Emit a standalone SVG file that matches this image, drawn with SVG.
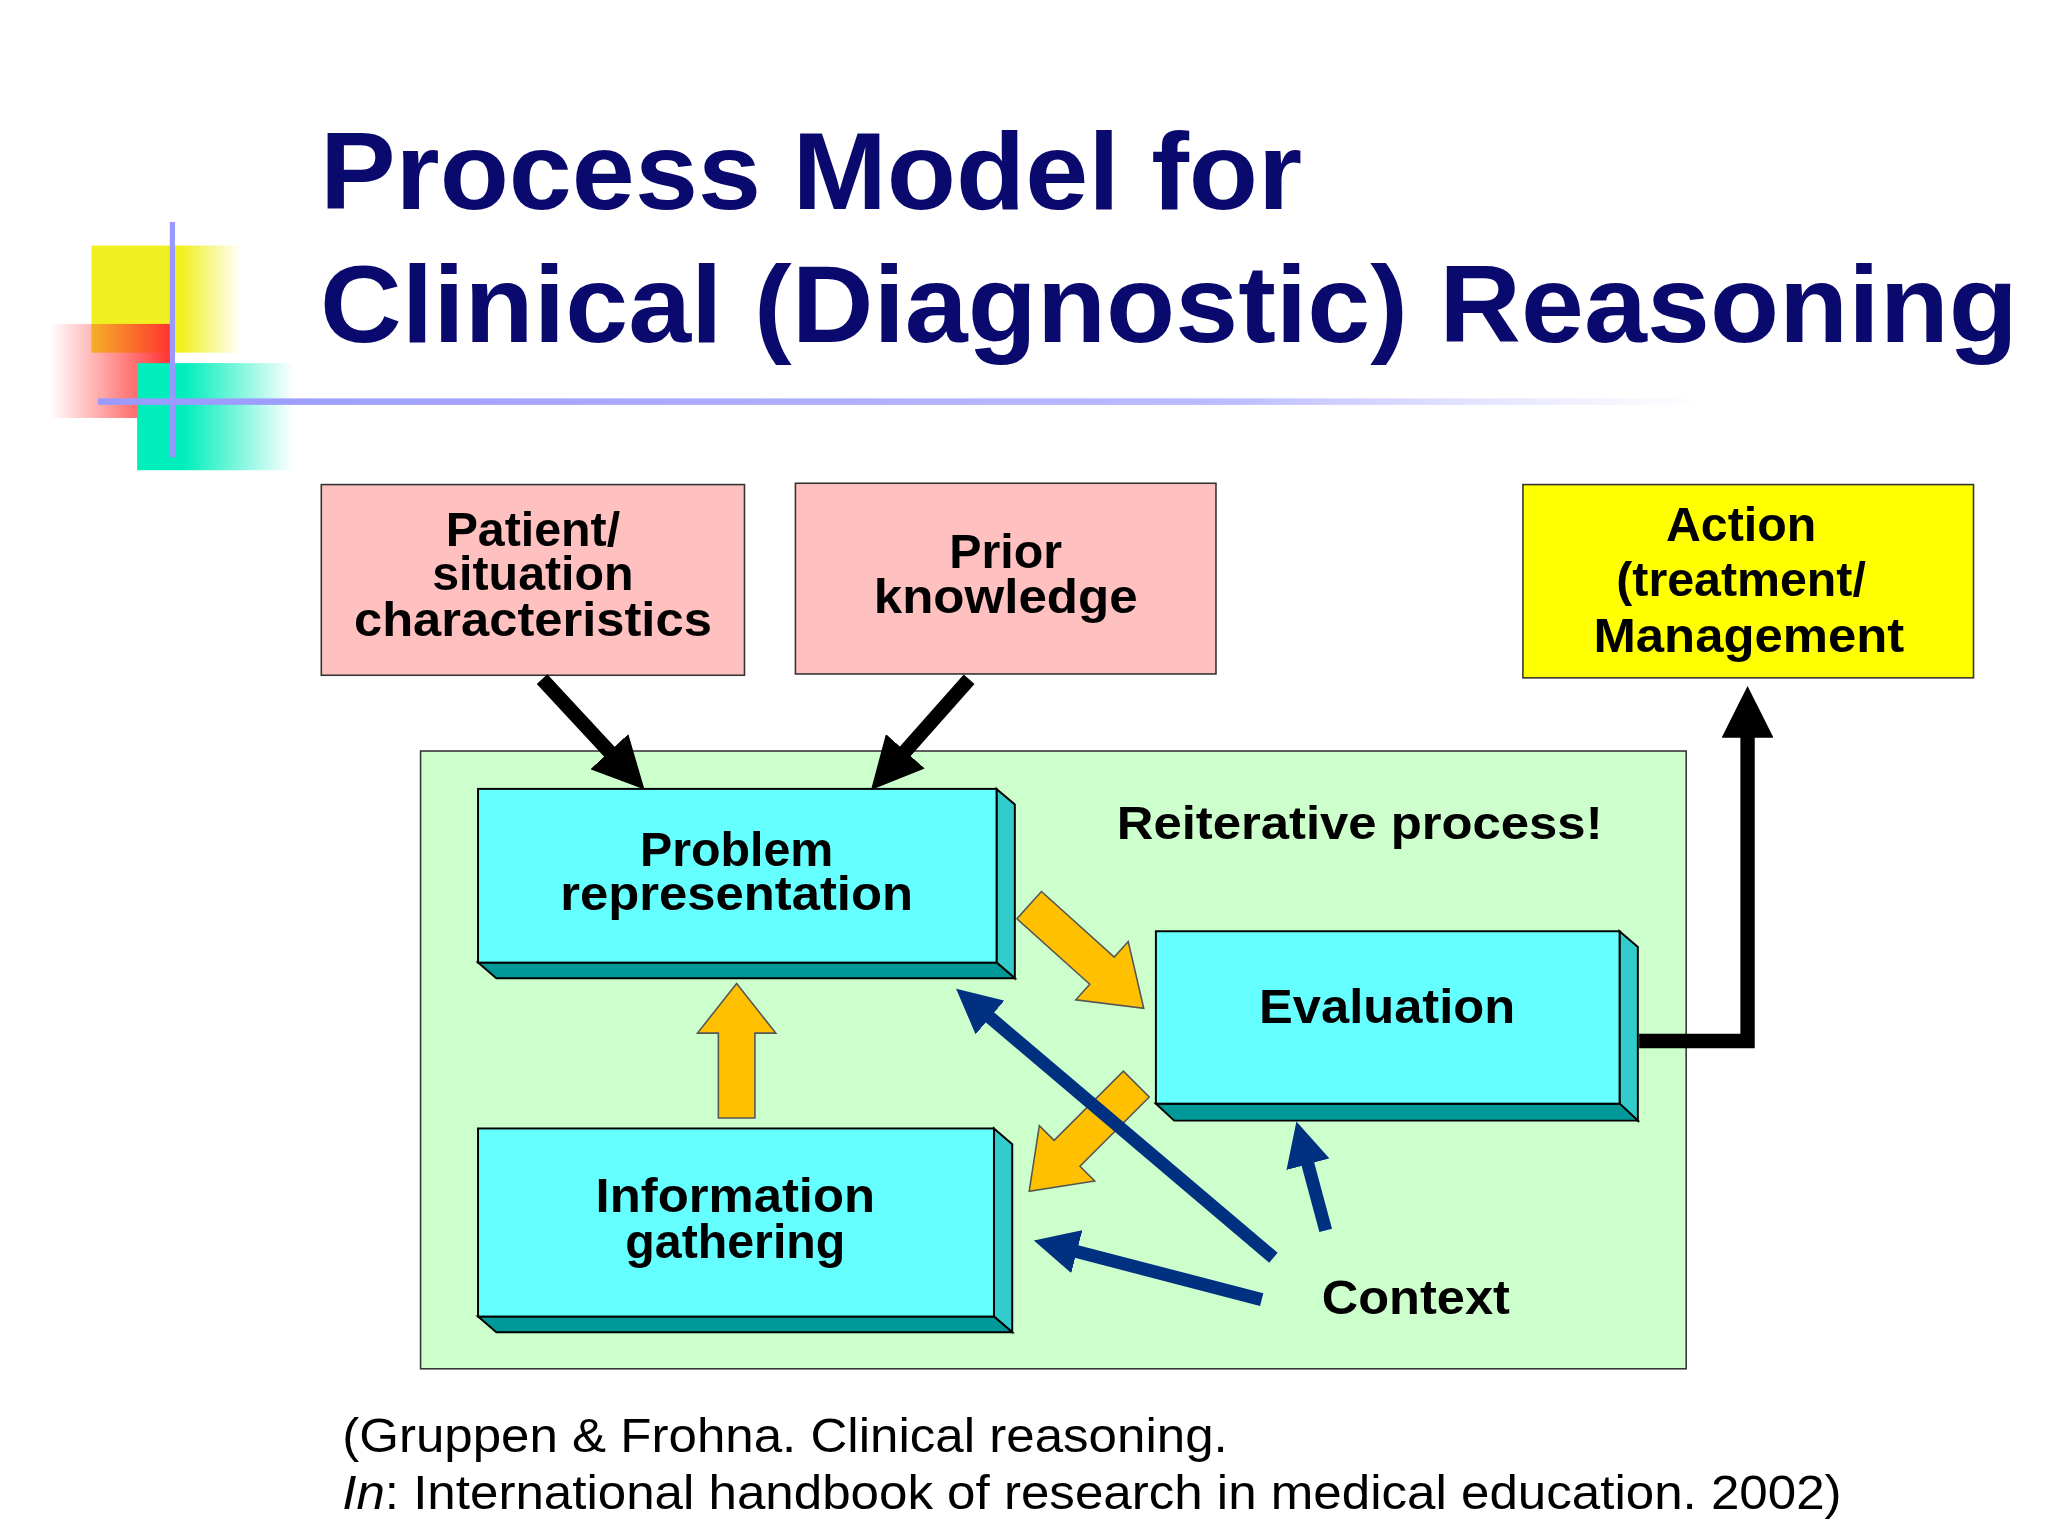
<svg xmlns="http://www.w3.org/2000/svg" width="2048" height="1536" viewBox="0 0 2048 1536">
<style>
.t{font-family:"Liberation Sans",Arial,sans-serif;font-weight:bold;fill:#000;text-anchor:middle;font-size:37px}
.title{font-family:"Liberation Sans",Arial,sans-serif;font-weight:bold;fill:#0a0a6e;font-size:84px}
.cit{font-family:"Liberation Sans",Arial,sans-serif;fill:#000;font-size:37px}
.pink{fill:#ffc0c0;stroke:#333;stroke-width:1.2}
.front{fill:#66ffff;stroke:#000;stroke-width:1.5}
.side{fill:#33cccc;stroke:#000;stroke-width:1.5}
.bot{fill:#009999;stroke:#000;stroke-width:1.5}
.blk{stroke:#000;stroke-width:11;fill:none}
.nav{stroke:#003080;stroke-width:10;fill:none}
.yel{fill:#ffc000;stroke:#555;stroke-width:1.2}
</style>
<defs>
<linearGradient id="gr" x1="1" x2="0" y1="0" y2="0"><stop offset="0" stop-color="#ff3030"/><stop offset="1" stop-color="#ff3030" stop-opacity="0"/></linearGradient>
<linearGradient id="gy" x1="0" x2="1"><stop offset="0.6" stop-color="#f0f020"/><stop offset="1" stop-color="#f0f020" stop-opacity="0"/></linearGradient>
<linearGradient id="gc" x1="0" x2="1"><stop offset="0.3" stop-color="#00eebb"/><stop offset="1" stop-color="#00eebb" stop-opacity="0"/></linearGradient>
<linearGradient id="gl" x1="0" x2="1"><stop offset="0" stop-color="#9999ff"/><stop offset="0.7" stop-color="#bbbbff"/><stop offset="1" stop-color="#ccccff" stop-opacity="0"/></linearGradient>
<marker id="mb" viewBox="0 0 10 10" refX="5" refY="5" markerWidth="3.6" markerHeight="3.6" orient="auto" markerUnits="strokeWidth"><path d="M0,0L10,5L0,10z" fill="#000"/></marker>
<marker id="mn" viewBox="0 0 10 10" refX="5" refY="5" markerWidth="3.4" markerHeight="3.4" orient="auto" markerUnits="strokeWidth"><path d="M0,0L10,5L0,10z" fill="#003080"/></marker>
</defs>
<rect width="2048" height="1536" fill="#fff"/>
<g transform="scale(1.3061)">
<g id="decor">
<rect x="70" y="188" width="115" height="82" fill="url(#gy)"/>
<rect x="38" y="248" width="94" height="72" fill="url(#gr)"/>
<rect x="105" y="278" width="120" height="82" fill="url(#gc)"/>
<line x1="132" y1="170" x2="132" y2="350" stroke="#9999ff" stroke-width="4"/>
<rect x="75" y="305" width="1230" height="5" fill="url(#gl)"/>
</g>
<text class="title" x="245" y="160" textLength="752" lengthAdjust="spacingAndGlyphs">Process Model for</text>
<text class="title" x="245" y="262" textLength="1300" lengthAdjust="spacingAndGlyphs">Clinical (Diagnostic) Reasoning</text>
<g id="area"><rect x="322" y="575" width="969" height="473" fill="#ccffcc" stroke="#333" stroke-width="1.2"/></g>
<g id="patient"><rect class="pink" x="246" y="371" width="324" height="146"/>
<text class="t" x="408" y="418">Patient/</text><text class="t" x="408" y="452">situation</text><text class="t" x="408" y="487" textLength="274" lengthAdjust="spacingAndGlyphs">characteristics</text></g>
<g id="prior"><rect class="pink" x="609" y="370" width="322" height="146"/>
<text class="t" x="770" y="435">Prior</text><text class="t" x="770" y="469" textLength="202" lengthAdjust="spacingAndGlyphs">knowledge</text></g>
<g id="action"><rect x="1166" y="371" width="345" height="148" fill="#ffff00" stroke="#333" stroke-width="1.2"/>
<text class="t" x="1333" y="414">Action</text><text class="t" x="1333" y="456">(treatment/</text><text class="t" x="1339" y="499" textLength="238" lengthAdjust="spacingAndGlyphs">Management</text></g>
<g id="problem">
<polygon class="side" points="763,604 777,616 777,749 763,737"/>
<polygon class="bot" points="366,737 763,737 777,749 380,749"/>
<rect class="front" x="366" y="604" width="397" height="133"/>
<text class="t" x="564" y="663">Problem</text><text class="t" x="564" y="697" textLength="270" lengthAdjust="spacingAndGlyphs">representation</text></g>
<g id="evaluation">
<polygon class="side" points="1240,713 1254,725 1254,858 1240,845"/>
<polygon class="bot" points="885,845 1240,845 1254,858 899,858"/>
<rect class="front" x="885" y="713" width="355" height="132"/>
<text class="t" x="1062" y="783" textLength="196" lengthAdjust="spacingAndGlyphs">Evaluation</text></g>
<g id="info">
<polygon class="side" points="761,864 775,876 775,1020 761,1008"/>
<polygon class="bot" points="366,1008 761,1008 775,1020 380,1020"/>
<rect class="front" x="366" y="864" width="395" height="144"/>
<text class="t" x="563" y="928" textLength="214" lengthAdjust="spacingAndGlyphs">Information</text><text class="t" x="563" y="963">gathering</text></g>
<text class="t" x="1041" y="642" style="font-size:35px" textLength="372" lengthAdjust="spacingAndGlyphs">Reiterative process!</text>
<g id="context"><text class="t" x="1084" y="1006" textLength="144" lengthAdjust="spacingAndGlyphs">Context</text></g>
<g id="connectors">
<line class="blk" x1="415" y1="520" x2="480" y2="590" marker-end="url(#mb)"/>
<line class="blk" x1="742" y1="520" x2="680" y2="590" marker-end="url(#mb)"/>
<polyline class="blk" points="1255,797 1338,797 1338,545" marker-end="url(#mb)"/>
<path class="yel" transform="translate(788,693) rotate(42)" d="M0,-14L75,-14L75,-30L118,0L75,30L75,14L0,14z"/>
<path class="yel" transform="translate(564,856) rotate(-90)" d="M0,-14L65,-14L65,-30L103,0L65,30L65,14L0,14z"/>
<path class="yel" transform="translate(870,830) rotate(135)" d="M0,-14L75,-14L75,-30L116,0L75,30L75,14L0,14z"/>
<line class="nav" x1="975" y1="963" x2="745" y2="768" marker-end="url(#mn)"/>
<line class="nav" x1="966" y1="995" x2="808" y2="954" marker-end="url(#mn)"/>
<line class="nav" x1="1015" y1="942" x2="997" y2="875" marker-end="url(#mn)"/>
</g>
<text class="cit" x="262" y="1112" textLength="678" lengthAdjust="spacingAndGlyphs">(Gruppen &amp; Frohna. Clinical reasoning.</text>
<text class="cit" x="262" y="1155" textLength="1148" lengthAdjust="spacingAndGlyphs"><tspan font-style="italic">In</tspan>: International handbook of research in medical education. 2002)</text>
</g>
</svg>
